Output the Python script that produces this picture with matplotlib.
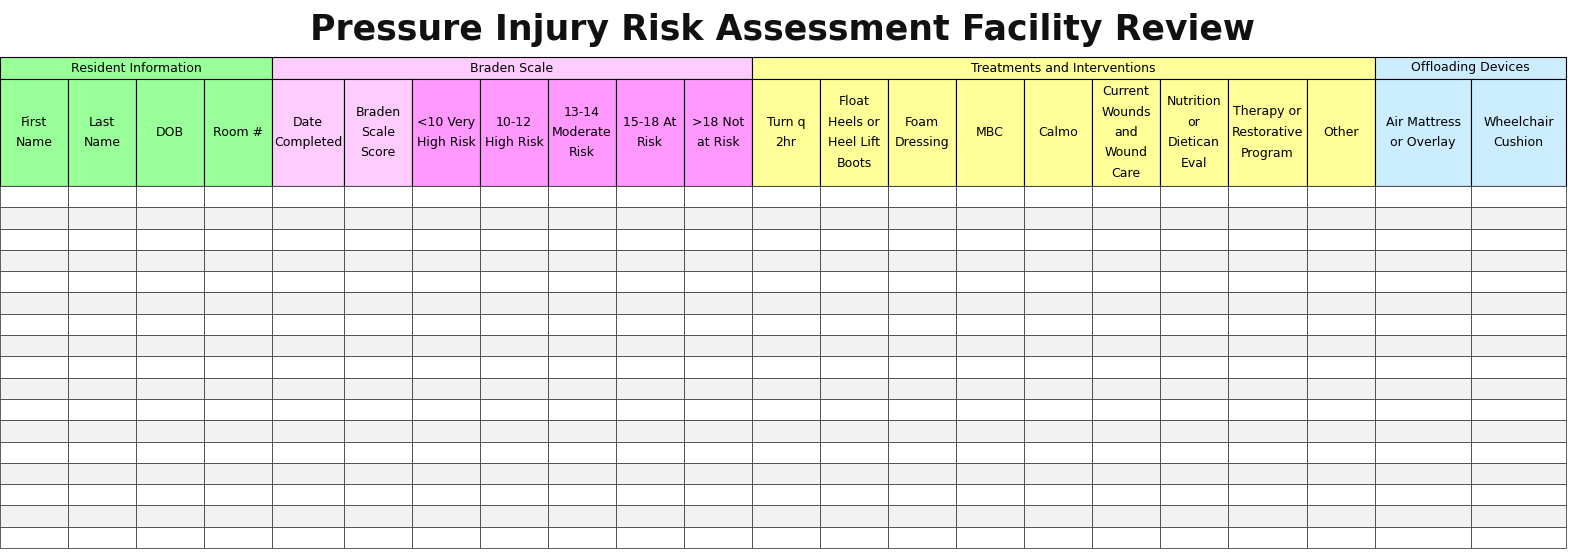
import matplotlib
matplotlib.use("Agg")
import matplotlib.pyplot as plt
from matplotlib.patches import Rectangle

title = "Pressure Injury Risk Assessment Facility Review"
groups = ["Resident Information", "Braden Scale", "Treatments and Interventions", "Offloading Devices"]
group_spans = [(0, 4), (4, 11), (11, 20), (20, 22)]
columns = ["First\nName", "Last\nName", "DOB", "Room #",
           "Date\nCompleted", "Braden\nScale\nScore", "<10 Very\nHigh Risk", "10-12\nHigh Risk",
           "13-14\nModerate\nRisk", "15-18 At\nRisk", ">18 Not\nat Risk",
           "Turn q\n2hr", "Float\nHeels or\nHeel Lift\nBoots", "Foam\nDressing", "MBC", "Calmo",
           "Current\nWounds\nand\nWound\nCare", "Nutrition\nor\nDietican\nEval", "Therapy or\nRestorative\nProgram", "Other",
           "Air Mattress\nor Overlay", "Wheelchair\nCushion"]
col_edges = [0, 68, 136, 204, 272, 344, 412, 480, 548, 616, 684, 752, 820, 888, 956, 1024,
             1092, 1160, 1228, 1307, 1375, 1471, 1566]
n_rows = 17

green, lpink, mpink, yellow, blue = "#99FF99", "#FFCCFF", "#FF99FF", "#FFFF99", "#CCECFF"
group_colors = [green, lpink, yellow, blue]
col_colors = [green]*4 + [lpink]*2 + [mpink]*5 + [yellow]*9 + [blue]*2

fig = plt.figure(figsize=(15.88, 5.56), dpi=100)
ax = fig.add_axes([0, 0, 1, 1])
ax.set_xlim(0, 1588)
ax.set_ylim(556, 0)
ax.axis("off")

ax.text(783, 30, title, ha="center", va="center", fontsize=25, fontweight="bold", color="#111111")

y0, y1, y2 = 57, 79, 186
row_h = (548 - y2) / n_rows
lw = 0.8
for (a, b), g, c in zip(group_spans, groups, group_colors):
    ax.add_patch(Rectangle((col_edges[a], y0), col_edges[b]-col_edges[a], y1-y0, fc=c, ec="black", lw=lw))
    ax.text((col_edges[a]+col_edges[b])/2, (y0+y1)/2, g, ha="center", va="center", fontsize=9)
for i, (lab, c) in enumerate(zip(columns, col_colors)):
    xa, xb = col_edges[i], col_edges[i+1]
    ax.add_patch(Rectangle((xa, y1), xb-xa, y2-y1, fc=c, ec="black", lw=lw))
    ax.text((xa+xb)/2, (y1+y2)/2, lab, ha="center", va="center", fontsize=9, linespacing=1.75)
    for r in range(n_rows):
        fc = "#F2F2F2" if r % 2 == 1 else "white"
        ax.add_patch(Rectangle((xa, y2 + r*row_h), xb-xa, row_h, fc=fc, ec="#444444", lw=0.6))

fig.savefig("out.png", dpi=100)
